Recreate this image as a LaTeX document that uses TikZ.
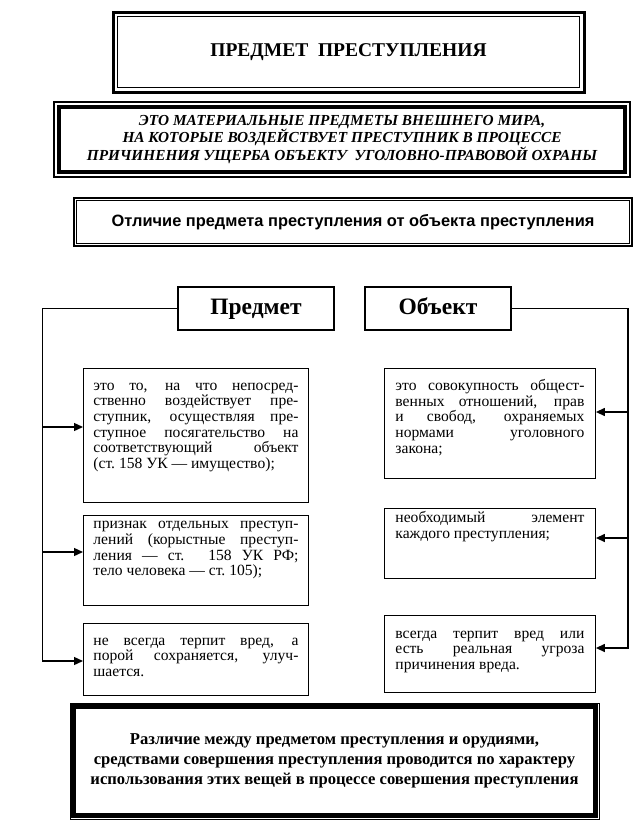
\documentclass[tikz,border=0pt]{standalone}
\usepackage{fontspec}
\setmainfont{Liberation Serif}
\newfontfamily\arialf{Liberation Sans}
\usetikzlibrary{arrows.meta,calc}
% width, height, top gap, text
\newcommand{\bodytext}[4]{\parbox[t][#2][t]{#1}{\tolerance=10000\hbadness=10000\hyphenpenalty=10000\parindent=0pt\vspace*{#3}\strut #4}}
\begin{document}
\begin{tikzpicture}[x=1pt,y=-1pt,
  conn/.style={line width=1.3pt},
  arr/.style={line width=1.3pt,-{Triangle[length=9pt,width=8pt]}},
  txtbox/.style={draw,line width=0.9pt,anchor=north west,inner xsep=10pt,inner ysep=0pt,
    font=\fontsize{15.6}{15.6}\selectfont},
  rtxtbox/.style={txtbox,inner xsep=11pt},
  headbox/.style={draw,line width=2.4pt,minimum height=43pt,inner sep=0pt,
    text height=16pt,text depth=4pt,font=\fontsize{23.5}{26}\selectfont\bfseries}
]
\useasboundingbox (0,0) rectangle (637,833);

% title
\node[draw,line width=3pt,minimum width=471pt,minimum height=80pt,inner sep=0pt,
  font=\fontsize{19.5}{23}\selectfont\bfseries] (T) at (348.5,52) {ПРЕДМЕТ\ \ ПРЕСТУПЛЕНИЯ};
\draw[line width=1pt] ($(T.north west)+(6,6)$) rectangle ($(T.south east)+(-6,-6)$);

% definition
\node[draw,line width=1.3pt,minimum width=576pt,minimum height=75pt,inner sep=0pt,align=center,
  font=\fontsize{15.3}{16.5}\selectfont\bfseries\itshape] (D) at (342,139.5)
  {ЭТО МАТЕРИАЛЬНЫЕ ПРЕДМЕТЫ ВНЕШНЕГО МИРА,\\НА КОТОРЫЕ ВОЗДЕЙСТВУЕТ ПРЕСТУПНИК В ПРОЦЕССЕ\\ПРИЧИНЕНИЯ УЩЕРБА ОБЪЕКТУ\ \ УГОЛОВНО-ПРАВОВОЙ ОХРАНЫ};
\draw[line width=3.5pt] ($(D.north west)+(5.5,5.5)$) rectangle ($(D.south east)+(-5.5,-5.5)$);

% difference heading
\node[draw,line width=1.8pt,minimum width=558pt,minimum height=48pt,inner sep=0pt,
  font=\fontsize{16.4}{19}\selectfont\arialf\bfseries] (C) at (353,222)
  {Отличие предмета преступления от объекта преступления};
\draw[line width=0.9pt] ($(C.north west)+(3.5,3.5)$) rectangle ($(C.south east)+(-3.5,-3.5)$);

% heads
\node[headbox,minimum width=156pt] (P) at (256,308.5) {Предмет};
\node[headbox,minimum width=146pt] (O) at (438,308.5) {Объект};

% left boxes
\node[txtbox] (L1) at (83,368) {\bodytext{205pt}{134pt}{11pt}{это то, на что непосред-\linebreak ственно воздействует пре-\linebreak ступник, осуществляя пре-\linebreak ступное посягательство на\linebreak соответствующий объект\linebreak (ст.~158 УК~— имущество);}};
\node[txtbox] (L2) at (83,515) {\bodytext{205pt}{90pt}{2.5pt}{признак отдельных преступ-\linebreak лений (корыстные преступ-\linebreak ления~— ст. 158 УК РФ;\linebreak тело человека~— ст.~105);}};
\node[txtbox] (L3) at (83,623) {\bodytext{205pt}{72pt}{11pt}{не всегда терпит вред, а\linebreak порой сохраняется, улуч-\linebreak шается.}};

% right boxes
\node[rtxtbox] (R1) at (384,368) {\bodytext{189pt}{110pt}{11pt}{это совокупность общест-\linebreak венных отношений, прав\linebreak и свобод, охраняемых\linebreak нормами уголовного\linebreak закона;}};
\node[rtxtbox] (R2) at (384,508) {\bodytext{189pt}{70pt}{3pt}{необходимый элемент\linebreak каждого преступления;}};
\node[rtxtbox] (R3) at (384,615) {\bodytext{189pt}{77pt}{12pt}{всегда терпит вред или\linebreak есть реальная угроза\linebreak причинения вреда.}};

% bottom
\node[draw,line width=1pt,minimum width=529pt,minimum height=116pt,inner sep=0pt,align=center,
  font=\fontsize{16.6}{20}\selectfont\bfseries] (B) at (334.5,761)
  {Различие между предметом преступления и орудиями,\\средствами совершения преступления проводится по характеру\\использования этих вещей в процессе совершения преступления};
\draw[line width=4.5pt] ($(B.north west)+(4,4)$) rectangle ($(B.south east)+(-4,-4)$);

% connectors left
\coordinate (lt) at (42.5,308.5);
\coordinate (l1) at (42.5,427);
\coordinate (l2) at (42.5,552);
\coordinate (l3) at (42.5,661);
\draw[arr] (P.west) -- (lt) -- (l3) -- (l3 -| L3.west);
\draw[arr] (l1) -- (l1 -| L1.west);
\draw[arr] (l2) -- (l2 -| L2.west);

% connectors right
\coordinate (rt) at (628,308.5);
\coordinate (r1) at (628,412);
\coordinate (r2) at (628,538);
\coordinate (r3) at (628,648);
\draw[arr] (O.east) -- (rt) -- (r3) -- (r3 -| R3.east);
\draw[arr] (r1) -- (r1 -| R1.east);
\draw[arr] (r2) -- (r2 -| R2.east);
\end{tikzpicture}
\end{document}
